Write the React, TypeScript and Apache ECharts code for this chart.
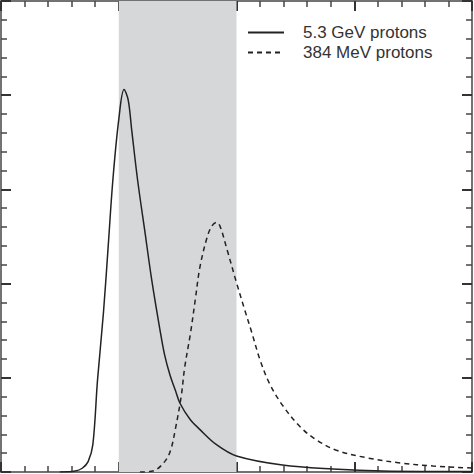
import React, { useEffect, useRef } from "react";
import * as echarts from "echarts";

const seriesNames = ["5.3 GeV protons", "384 MeV protons"];

const gevX = [0.5, 0.63, 0.69, 0.74, 0.78, 0.82, 0.87, 0.91, 0.95, 1.0, 1.045, 1.08, 1.11, 1.16, 1.22, 1.28, 1.35, 1.39, 1.435, 1.48, 1.52, 1.605, 1.69, 1.83, 2.0, 2.39, 2.82, 3.24, 4.0];
const gevY = [0, 0.01, 0.04, 0.11, 0.29, 0.98, 1.69, 2.39, 3.1, 3.74, 4.06, 3.95, 3.63, 3.1, 2.57, 2.04, 1.51, 1.24, 1.03, 0.87, 0.73, 0.56, 0.45, 0.29, 0.17, 0.074, 0.032, 0.011, 0.005];

const mevX = [1.18, 1.29, 1.39, 1.44, 1.48, 1.53, 1.56, 1.61, 1.65, 1.69, 1.75, 1.79, 1.83, 1.86, 1.92, 2.0, 2.07, 2.13, 2.2, 2.28, 2.39, 2.54, 2.68, 2.85, 3.11, 3.39, 3.67, 4.0];
const mevY = [0, 0.01, 0.11, 0.23, 0.45, 0.8, 1.11, 1.48, 1.83, 2.18, 2.49, 2.61, 2.65, 2.61, 2.36, 2.01, 1.72, 1.48, 1.19, 0.94, 0.71, 0.48, 0.34, 0.23, 0.15, 0.096, 0.064, 0.042];

const shadedRange = [1, 2];

export default function App() {
  const ref = useRef<HTMLDivElement>(null);
  useEffect(() => {
    if (!ref.current) return;
    const chart = echarts.init(ref.current, undefined, { renderer: "svg" });
    const axisCommon = {
      type: "value" as const,
      interval: 1,
      axisLine: { show: true, onZero: false, lineStyle: { color: "#444", width: 1.5 } },
      axisTick: { show: true, inside: true, length: 10, lineStyle: { color: "#333", width: 2 } },
      minorTick: { show: true, splitNumber: 5, length: 6, lineStyle: { color: "#444", width: 1.5 } },
      axisLabel: { show: false },
      splitLine: { show: false },
      minorSplitLine: { show: false },
    };
    chart.setOption({
      animation: false,
      backgroundColor: "#ffffff",
      grid: { left: 1, top: 1, width: 471, height: 471, containLabel: false },
      legend: {
        orient: "vertical",
        left: 242,
        top: 19,
        padding: 5,
        itemWidth: 36,
        itemHeight: 10,
        itemGap: 3,
        itemStyle: { opacity: 0 },
        data: seriesNames,
        textStyle: { fontSize: 17, fontFamily: "Liberation Sans, Arial, sans-serif", color: "#333", padding: [0, 0, 0, 14] },
      },
      xAxis: [
        { ...axisCommon, min: 0, max: 4, position: "bottom" },
        { ...axisCommon, min: 0, max: 4, position: "top" },
      ],
      yAxis: [
        { ...axisCommon, min: 0, max: 5, position: "left" },
        { ...axisCommon, min: 0, max: 5, position: "right" },
      ],
      series: [
        {
          name: seriesNames[0],
          type: "line",
          smooth: 0.35,
          showSymbol: false,
          symbol: "none",
          data: gevX.map((x, i) => [x, gevY[i]]),
          lineStyle: { color: "#222", width: 1.5, type: "solid" },
          itemStyle: { color: "#222" },
          markArea: {
            silent: true,
            itemStyle: { color: "#d6d7d9" },
            data: [[{ xAxis: shadedRange[0] }, { xAxis: shadedRange[1] }]],
          },
          z: 3,
        },
        {
          name: seriesNames[1],
          type: "line",
          smooth: 0.35,
          showSymbol: false,
          symbol: "none",
          data: mevX.map((x, i) => [x, mevY[i]]),
          lineStyle: { color: "#222", width: 1.5, type: [5, 4] },
          itemStyle: { color: "#222" },
          z: 3,
        },
      ],
    });
    return () => chart.dispose();
  }, []);
  return <div ref={ref} style={{ width: 474, height: 474, position: "absolute", left: 0, top: 0 }} />;
}
